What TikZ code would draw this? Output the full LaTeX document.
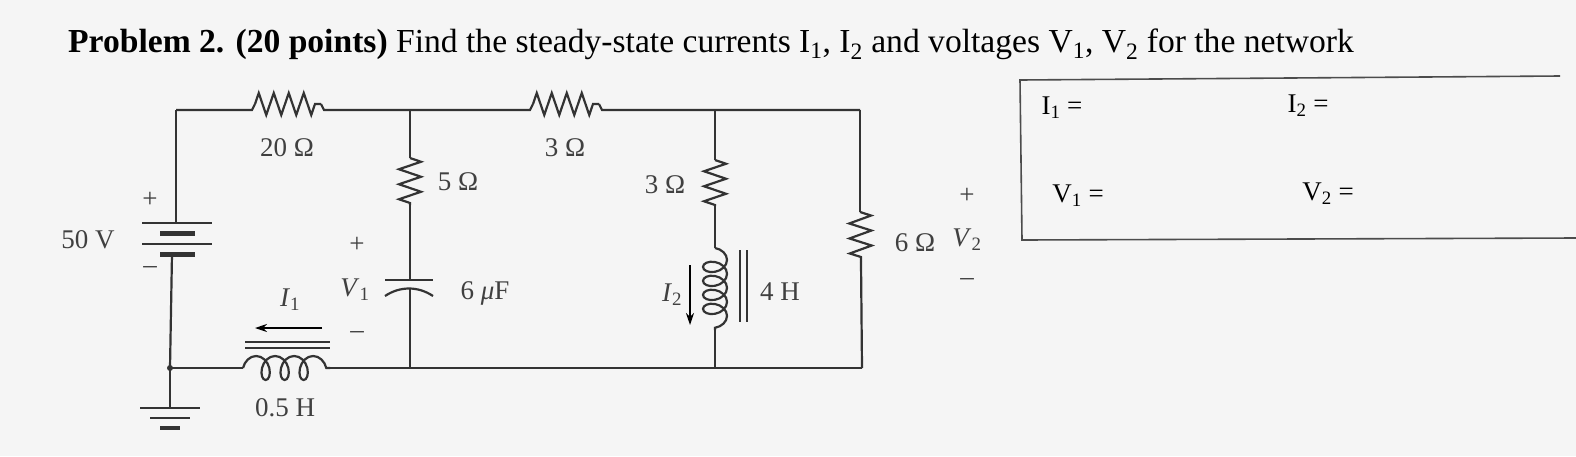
\documentclass[tikz,border=0pt]{standalone}
\usepackage{fontspec}
\setmainfont{Liberation Serif}
\usetikzlibrary{decorations.pathmorphing,arrows.meta}
\begin{document}
\begin{tikzpicture}[x=1pt,y=-1pt,
  wire/.style={line width=2.2pt,color=black!80},
  res/.style={wire,decorate,decoration={zigzag,segment length=15pt,amplitude=11pt}},
  coil/.style={wire,decorate,decoration={coil,aspect=0.7,segment length=19pt,amplitude=12pt}},
  vcoil/.style={wire,decorate,decoration={coil,aspect=0.7,segment length=14pt,amplitude=12pt}},
  lbl/.style={font=\fontsize{27}{29}\selectfont,text=black!75,inner sep=0pt},
  arr/.style={line width=1.8pt,-{Stealth[length=12pt,width=8pt]}}]
\useasboundingbox[fill=black!4] (0,0) rectangle (1576,456);
\node[anchor=base west,inner sep=0pt,font=\fontsize{33.6}{36}\selectfont] (title) at (68,52) {\textbf{Problem 2. (20 points)} Find the steady-state currents I\textsubscript{1}, I\textsubscript{2} and voltages V\textsubscript{1}, V\textsubscript{2} for the network};
% coordinates
\coordinate (tl) at (176,110); \coordinate (tr) at (860,110);
\coordinate (bl) at (170,368); \coordinate (br) at (862,368);
\coordinate (n5) at (410,110); \coordinate (n5b) at (410,368);
\coordinate (n3) at (715,110); \coordinate (n3b) at (715,368);
% top wire
\draw[wire] (tl) -- (252,110) -- (255,104);
\draw[res] (255,104) -- (321,104);
\draw[wire] (321,104) -- (324,110) -- (n5) -- (530,110) -- (533,104);
\draw[res] (533,104) -- (599,104);
\draw[wire] (599,104) -- (602,110) -- (n3) -- (tr);
% battery
\draw[wire] (tl) -- (176,223);
\draw[wire] (142,223) -- (212,223) (142,244) -- (212,244);
\draw[line width=5pt,color=black!80] (160,233) -- (195,233) (160,254) -- (195,254);
\draw[wire] (172,254) -- (bl);
\node[lbl] (p1) at (150,200) {+};
\node[lbl] (m1) at (150,270) {–};
\node[lbl] (v50) at (88,240) {50 V};
% ground
\draw[wire] (bl) -- (170,408);
\draw[wire] (140,408) -- (200,408) (150,418) -- (190,418);
\draw[line width=4pt,color=black!80] (160,428) -- (180,428);
\fill[black!80] (bl) circle (3pt);
% bottom wire with 0.5H
\draw[wire] (bl) -- (243,368);
\draw[coil] (243,368) -- (330,368);
\draw[wire] (330,368) -- (n5b) -- (n3b) -- (br);
\draw[wire] (245,342) -- (330,342) (245,348) -- (330,348);
\draw[arr] (322,328) -- (255,328);
\node[lbl] (i1) at (290,300) {\textit{I}\textsubscript{1}};
\node[lbl] (l05) at (285,408) {0.5 H};
% 5 ohm and capacitor
\draw[wire] (n5) -- (410,158);
\draw[res] (410,158) -- (410,205);
\draw[wire] (410,205) -- (410,280);
\draw[wire] (385,280) -- (433,280);
\draw[wire] (385,296) .. controls (400,286) and (418,286) .. (433,296);
\draw[wire] (410,289) -- (n5b);
\node[lbl] (r5) at (458,182) {5 Ω};
\node[lbl] (c6) at (485,293) {6 \textit{μ}F};
\node[lbl] (pv1) at (357,245) {+};
\node[lbl] (v1) at (355,290) {\textit{V}\textsubscript{1}};
\node[lbl] (mv1) at (357,335) {–};
% 3 ohm + 4H
\draw[wire] (n3) -- (715,160);
\draw[res] (715,160) -- (715,206);
\draw[wire] (715,206) -- (715,248);
\draw[vcoil] (715,248) -- (715,330);
\draw[wire] (715,330) -- (n3b);
\draw[wire] (740,250) -- (740,322) (747,250) -- (747,322);
\draw[arr] (690,265) -- (690,325);
\node[lbl] (i2) at (672,295) {\textit{I}\textsubscript{2}};
\node[lbl] (l4) at (780,292) {4 H};
\node[lbl] (r3b) at (665,185) {3 Ω};
\node[lbl] (r20) at (287,148) {20 Ω};
\node[lbl] (r3a) at (565,148) {3 Ω};
% 6 ohm
\draw[wire] (tr) -- (860,212);
\draw[res] (860,212) -- (861,262);
\draw[wire] (861,262) -- (br);
\node[lbl] (r6) at (915,243) {6 Ω};
\node[lbl] (pv2) at (967,196) {+};
\node[lbl] (v2) at (967,240) {\textit{V}\textsubscript{2}};
\node[lbl] (mv2) at (967,282) {–};
% answer box
\draw[line width=1.6pt,black!70] (1560,76) -- (1020,80) -- (1022,240) -- (1576,238);
\node[lbl,text=black] (a1) at (1062,108) {I\textsubscript{1} =};
\node[lbl,text=black] (a2) at (1308,106) {I\textsubscript{2} =};
\node[lbl,text=black] (a3) at (1078,196) {V\textsubscript{1} =};
\node[lbl,text=black] (a4) at (1328,194) {V\textsubscript{2} =};
\end{tikzpicture}
\end{document}
